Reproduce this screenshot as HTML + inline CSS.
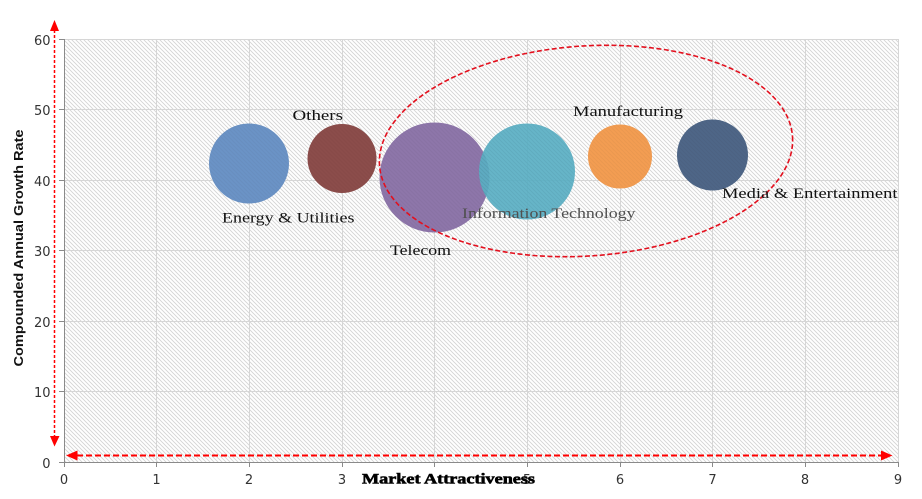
<!DOCTYPE html>
<html>
<head>
<meta charset="utf-8">
<style>
html,body{margin:0;padding:0;background:#fff;}
svg{display:block;}
</style>
</head>
<body>
<svg width="922" height="499" viewBox="0 0 922 499" xmlns="http://www.w3.org/2000/svg">
<defs>
<pattern id="hatch" patternUnits="userSpaceOnUse" width="4" height="4">
<rect width="4" height="4" fill="#ffffff"/>
<path d="M-1,-1 L5,5 M-1,3 L1,5 M3,-1 L5,1" stroke="#d2d2d2" stroke-width="0.8"/>
</pattern>
<pattern id="hatchD" patternUnits="userSpaceOnUse" width="4" height="4">
<path d="M-1,-1 L5,5 M-1,3 L1,5 M3,-1 L5,1" stroke="#000" stroke-opacity="0.04" stroke-width="0.8"/>
</pattern>
</defs>

<!-- plot area -->
<rect x="64" y="39" width="834" height="423" fill="url(#hatch)"/>

<!-- grid -->
<g stroke="#d6d6d6" stroke-width="1">
<line x1="64" y1="39.5" x2="898" y2="39.5"/>
<line x1="64" y1="109.5" x2="898" y2="109.5"/>
<line x1="64" y1="180.5" x2="898" y2="180.5"/>
<line x1="64" y1="250.5" x2="898" y2="250.5"/>
<line x1="64" y1="321.5" x2="898" y2="321.5"/>
<line x1="64" y1="391.5" x2="898" y2="391.5"/>
<line x1="156.5" y1="39" x2="156.5" y2="462"/>
<line x1="249.5" y1="39" x2="249.5" y2="462"/>
<line x1="342.5" y1="39" x2="342.5" y2="462"/>
<line x1="434.5" y1="39" x2="434.5" y2="462"/>
<line x1="527.5" y1="39" x2="527.5" y2="462"/>
<line x1="620.5" y1="39" x2="620.5" y2="462"/>
<line x1="712.5" y1="39" x2="712.5" y2="462"/>
<line x1="805.5" y1="39" x2="805.5" y2="462"/>
<line x1="898.5" y1="39" x2="898.5" y2="462"/>
</g>

<!-- axes -->
<g stroke="#8a8a8a" stroke-width="1">
<line x1="64.5" y1="39" x2="64.5" y2="462"/>
<line x1="64" y1="462.5" x2="898" y2="462.5"/>
<line x1="59" y1="39.5" x2="64" y2="39.5"/>
<line x1="59" y1="109.5" x2="64" y2="109.5"/>
<line x1="59" y1="180.5" x2="64" y2="180.5"/>
<line x1="59" y1="250.5" x2="64" y2="250.5"/>
<line x1="59" y1="321.5" x2="64" y2="321.5"/>
<line x1="59" y1="391.5" x2="64" y2="391.5"/>
<line x1="59" y1="462.5" x2="64" y2="462.5"/>
<line x1="64.5" y1="462" x2="64.5" y2="467"/>
<line x1="156.5" y1="462" x2="156.5" y2="467"/>
<line x1="249.5" y1="462" x2="249.5" y2="467"/>
<line x1="342.5" y1="462" x2="342.5" y2="467"/>
<line x1="434.5" y1="462" x2="434.5" y2="467"/>
<line x1="527.5" y1="462" x2="527.5" y2="467"/>
<line x1="620.5" y1="462" x2="620.5" y2="467"/>
<line x1="712.5" y1="462" x2="712.5" y2="467"/>
<line x1="805.5" y1="462" x2="805.5" y2="467"/>
<line x1="898.5" y1="462" x2="898.5" y2="467"/>
</g>

<!-- bubbles -->
<g>
<circle cx="249" cy="163.5" r="40" fill="#6b93c6"/>
<circle cx="342" cy="158.5" r="34.5" fill="#8c4d4b"/>
<circle cx="434.5" cy="177.5" r="55" fill="#8e76aa"/>
<circle cx="527" cy="171.5" r="48" fill="#5aafc4" fill-opacity="0.93"/>
<circle cx="620" cy="156.5" r="32" fill="#f39d52"/>
<circle cx="712.5" cy="155" r="35.5" fill="#4e6687"/>
<circle cx="249" cy="163.5" r="40" fill="url(#hatchD)"/>
<circle cx="342" cy="158.5" r="34.5" fill="url(#hatchD)"/>
<circle cx="434.5" cy="177.5" r="55" fill="url(#hatchD)"/>
<circle cx="527" cy="171.5" r="48" fill="url(#hatchD)"/>
<circle cx="620" cy="156.5" r="32" fill="url(#hatchD)"/>
<circle cx="712.5" cy="155" r="35.5" fill="url(#hatchD)"/>
</g>

<!-- ellipse -->
<ellipse cx="586" cy="151" rx="207" ry="105" transform="rotate(-4 586 151)" fill="none" stroke="#e3101e" stroke-width="1.6" stroke-dasharray="5 2.5"/>

<!-- bubble labels -->
<g font-family="'Liberation Serif', 'DejaVu Serif', serif" font-size="15" fill="#111">
<text x="292.5" y="120" textLength="50.5" lengthAdjust="spacingAndGlyphs">Others</text>
<text x="222" y="222.5" textLength="132.5" lengthAdjust="spacingAndGlyphs">Energy &amp; Utilities</text>
<text x="390" y="255" textLength="61" lengthAdjust="spacingAndGlyphs">Telecom</text>
<text x="462" y="218" textLength="173.5" lengthAdjust="spacingAndGlyphs" fill="#505050">Information Technology</text>
<text x="573" y="116" textLength="110" lengthAdjust="spacingAndGlyphs">Manufacturing</text>
<text x="722" y="198" textLength="175.5" lengthAdjust="spacingAndGlyphs">Media &amp; Entertainment</text>
</g>

<!-- y tick labels -->
<g font-family="'DejaVu Sans', 'Liberation Sans', sans-serif" font-size="13" fill="#333" text-anchor="end">
<text x="50.5" y="45">60</text>
<text x="50.5" y="115">50</text>
<text x="50.5" y="186">40</text>
<text x="50.5" y="256">30</text>
<text x="50.5" y="327">20</text>
<text x="50.5" y="397">10</text>
<text x="50.5" y="468">0</text>
</g>

<!-- x tick labels -->
<g font-family="'DejaVu Sans', 'Liberation Sans', sans-serif" font-size="13" fill="#333" text-anchor="middle">
<text x="64" y="484">0</text>
<text x="156.5" y="484">1</text>
<text x="249" y="484">2</text>
<text x="342" y="484">3</text>
<text x="434.5" y="484">4</text>
<text x="527" y="484">5</text>
<text x="620" y="484">6</text>
<text x="712.5" y="484">7</text>
<text x="805" y="484">8</text>
<text x="898" y="484">9</text>
</g>

<!-- axis titles -->
<rect x="362" y="471" width="160" height="15" fill="#fff"/>
<text x="362" y="483.5" font-family="'Liberation Serif', 'DejaVu Serif', serif" font-weight="bold" font-size="15" fill="#000" stroke="#000" stroke-width="0.6" textLength="173" lengthAdjust="spacingAndGlyphs">Market Attractiveness</text>
<text transform="translate(23 248) rotate(-90)" text-anchor="middle" font-family="'Liberation Sans', 'DejaVu Sans', sans-serif" font-weight="bold" font-size="13" fill="#111" textLength="237" lengthAdjust="spacingAndGlyphs">Compounded Annual Growth Rate</text>

<!-- red arrows -->
<line x1="54.5" y1="30" x2="54.5" y2="437" stroke="#f00" stroke-width="1.5" stroke-dasharray="3 2"/>
<polygon points="54.5,20 50,31 59,31" fill="#f00"/>
<polygon points="54.5,446.5 50,436 59.5,436" fill="#f00"/>
<line x1="77" y1="455.5" x2="882" y2="455.5" stroke="#f00" stroke-width="2" stroke-dasharray="6 3"/>
<polygon points="66,455.5 77.5,450.5 77.5,460.5" fill="#f00"/>
<polygon points="892.5,455.5 881,450.5 881,460.5" fill="#f00"/>
</svg>
</body>
</html>
